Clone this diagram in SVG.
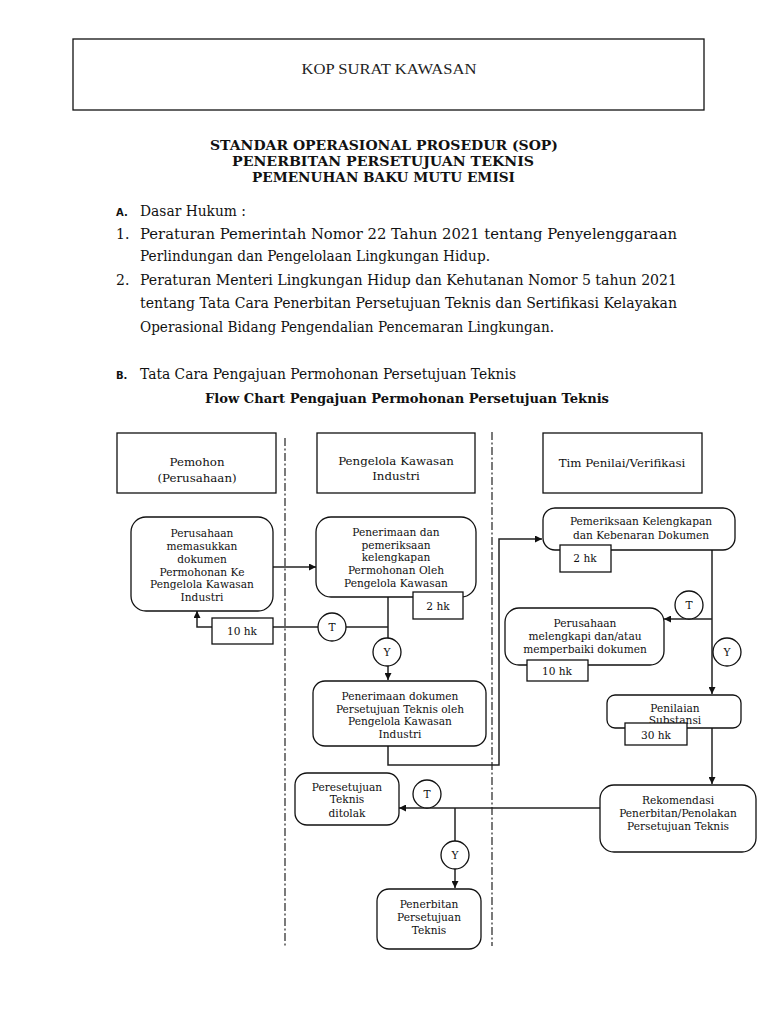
<svg xmlns="http://www.w3.org/2000/svg" width="768" height="1024" viewBox="0 0 768 1024">
<style>
.bg{fill:#fff}
.box{fill:#fff;stroke:#111;stroke-width:1.3}
.rbox{fill:#fff;stroke:#111;stroke-width:1.3}
.circ{fill:#fff;stroke:#111;stroke-width:1.3}
.conn{fill:none;stroke:#222;stroke-width:1.5}
.lane{fill:none;stroke:#222;stroke-width:1.2;stroke-dasharray:8 2.5 2 2.5}
.body{font-family:"DejaVu Serif","Liberation Serif",serif;font-size:14px;fill:#111}
.title{font-family:"DejaVu Serif","Liberation Serif",serif;font-size:13px;font-weight:bold;fill:#111}
.lbl{font-family:"DejaVu Sans","Liberation Sans",sans-serif;font-size:10px;font-weight:bold;fill:#111}
.t{font-family:"DejaVu Serif","Liberation Serif",serif;font-size:10.6px;fill:#111;text-anchor:middle}
.th{font-family:"DejaVu Serif","Liberation Serif",serif;font-size:11.8px;fill:#111;text-anchor:middle}
.kop{font-family:"Liberation Serif","DejaVu Serif",serif;font-size:15px;fill:#222;text-anchor:middle}
</style>
<defs>
<marker id="arr" viewBox="0 0 10 10" refX="10" refY="5" markerWidth="8" markerHeight="7" markerUnits="userSpaceOnUse" orient="auto">
<path d="M0,0 L10,5 L0,10 z" fill="#111"/>
</marker>
</defs>
<rect class="bg" x="0" y="0" width="768" height="1024"/>

<g id="kop">
<rect class="box" x="73" y="39" width="631" height="71"/>
<text class="kop" x="389" y="74" textLength="175" lengthAdjust="spacingAndGlyphs">KOP SURAT KAWASAN</text>
</g>

<g id="titles">
<text class="title" x="210" y="150" textLength="348" lengthAdjust="spacingAndGlyphs">STANDAR OPERASIONAL PROSEDUR (SOP)</text>
<text class="title" x="232" y="166" textLength="302" lengthAdjust="spacingAndGlyphs">PENERBITAN PERSETUJUAN TEKNIS</text>
<text class="title" x="252" y="182" textLength="263" lengthAdjust="spacingAndGlyphs">PEMENUHAN BAKU MUTU EMISI</text>
</g>

<g id="body">
<text class="lbl" x="116" y="216">A.</text>
<text class="body" x="140" y="216" textLength="106" lengthAdjust="spacingAndGlyphs">Dasar Hukum :</text>
<text class="body" x="116" y="239">1.</text>
<text class="body" x="140" y="239" textLength="537" lengthAdjust="spacingAndGlyphs">Peraturan  Pemerintah  Nomor  22  Tahun  2021  tentang  Penyelenggaraan</text>
<text class="body" x="140" y="261" textLength="350" lengthAdjust="spacingAndGlyphs">Perlindungan dan Pengelolaan Lingkungan Hidup.</text>
<text class="body" x="116" y="285">2.</text>
<text class="body" x="140" y="285" textLength="537" lengthAdjust="spacingAndGlyphs">Peraturan Menteri Lingkungan Hidup dan Kehutanan Nomor 5 tahun 2021</text>
<text class="body" x="140" y="308" textLength="537" lengthAdjust="spacingAndGlyphs">tentang Tata Cara Penerbitan Persetujuan Teknis dan Sertifikasi Kelayakan</text>
<text class="body" x="140" y="332" textLength="414" lengthAdjust="spacingAndGlyphs">Operasional Bidang Pengendalian Pencemaran Lingkungan.</text>
<text class="lbl" x="116" y="379">B.</text>
<text class="body" x="140" y="379" textLength="376" lengthAdjust="spacingAndGlyphs">Tata Cara Pengajuan Permohonan Persetujuan Teknis</text>
<text class="title" x="205" y="403" textLength="404" lengthAdjust="spacingAndGlyphs">Flow Chart Pengajuan Permohonan Persetujuan Teknis</text>
</g>

<g id="lanes">
<line class="lane" x1="285" y1="438" x2="285" y2="946"/>
<line class="lane" x1="492" y1="432" x2="492" y2="946"/>
</g>

<g id="connectors">
<path class="conn" d="M273 567 H316" marker-end="url(#arr)"/>
<path class="conn" d="M388 597 V680" marker-end="url(#arr)"/>
<path class="conn" d="M388 627 H197 V611" marker-end="url(#arr)"/>
<path class="conn" d="M388 746 V765 H499 V539 H542" marker-end="url(#arr)"/>
<path class="conn" d="M712 550 V694" marker-end="url(#arr)"/>
<path class="conn" d="M712 619 H664" marker-end="url(#arr)"/>
<path class="conn" d="M712 728 V784" marker-end="url(#arr)"/>
<path class="conn" d="M600 808 H399" marker-end="url(#arr)"/>
<path class="conn" d="M455 808 V888" marker-end="url(#arr)"/>
</g>

<g id="lane-pemohon">
<rect class="box" x="117" y="433" width="159" height="60"/>
<text class="th" x="197" y="466">Pemohon</text>
<text class="th" x="197" y="482">(Perusahaan)</text>
</g>
<g id="lane-pengelola">
<rect class="box" x="317" y="433" width="158" height="60"/>
<text class="th" x="396" y="465">Pengelola Kawasan</text>
<text class="th" x="396" y="480">Industri</text>
</g>
<g id="lane-tim">
<rect class="box" x="543" y="433" width="159" height="60"/>
<text class="th" x="622" y="467">Tim Penilai/Verifikasi</text>
</g>

<g id="n1">
<rect class="rbox" x="131" y="517" width="142" height="94" rx="15"/>
<text class="t" x="202" y="537">Perusahaan</text>
<text class="t" x="202" y="550">memasukkan</text>
<text class="t" x="202" y="563">dokumen</text>
<text class="t" x="202" y="576">Permohonan Ke</text>
<text class="t" x="202" y="588">Pengelola Kawasan</text>
<text class="t" x="202" y="601">Industri</text>
</g>
<g id="hk10a">
<rect class="box" x="212" y="618" width="61" height="26"/>
<text class="t" x="242" y="635">10 hk</text>
</g>
<g id="t1">
<circle class="circ" cx="332" cy="627" r="14"/>
<text class="t" x="332" y="631">T</text>
</g>

<g id="n2">
<rect class="rbox" x="316" y="517" width="160" height="80" rx="15"/>
<text class="t" x="396" y="536">Penerimaan dan</text>
<text class="t" x="396" y="549">pemeriksaan</text>
<text class="t" x="396" y="561">kelengkapan</text>
<text class="t" x="396" y="574">Permohonan Oleh</text>
<text class="t" x="396" y="587">Pengelola Kawasan</text>
</g>
<g id="hk2a">
<rect class="box" x="413" y="592" width="50" height="27"/>
<text class="t" x="438" y="610">2 hk</text>
</g>
<g id="y1">
<circle class="circ" cx="387" cy="652" r="14"/>
<text class="t" x="387" y="656">Y</text>
</g>

<g id="n3">
<rect class="rbox" x="313" y="681" width="173" height="65" rx="12"/>
<text class="t" x="400" y="700">Penerimaan dokumen</text>
<text class="t" x="400" y="713">Persetujuan Teknis oleh</text>
<text class="t" x="400" y="725">Pengelola Kawasan</text>
<text class="t" x="400" y="738">Industri</text>
</g>

<g id="n4">
<rect class="rbox" x="543" y="508" width="192" height="42" rx="12"/>
<text class="t" x="641" y="525">Pemeriksaan Kelengkapan</text>
<text class="t" x="641" y="539">dan Kebenaran Dokumen</text>
</g>
<g id="hk2b">
<rect class="box" x="560" y="545" width="51" height="27"/>
<text class="t" x="585" y="562">2 hk</text>
</g>
<g id="t2">
<circle class="circ" cx="689" cy="605" r="14"/>
<text class="t" x="689" y="609">T</text>
</g>

<g id="n5">
<rect class="rbox" x="505" y="608" width="159" height="57" rx="14"/>
<text class="t" x="585" y="627">Perusahaan</text>
<text class="t" x="585" y="640">melengkapi dan/atau</text>
<text class="t" x="585" y="653">memperbaiki dokumen</text>
</g>
<g id="hk10b">
<rect class="box" x="527" y="660" width="61" height="21"/>
<text class="t" x="557" y="675">10 hk</text>
</g>
<g id="y2">
<circle class="circ" cx="727" cy="652" r="14"/>
<text class="t" x="727" y="656">Y</text>
</g>

<g id="n6">
<rect class="rbox" x="607" y="695" width="134" height="33" rx="8"/>
<text class="t" x="675" y="712">Penilaian</text>
<text class="t" x="675" y="724">Substansi</text>
</g>
<g id="hk30">
<rect class="box" x="625" y="723" width="62" height="22"/>
<text class="t" x="656" y="739">30 hk</text>
</g>

<g id="n7">
<rect class="rbox" x="600" y="785" width="156" height="67" rx="14"/>
<text class="t" x="678" y="804">Rekomendasi</text>
<text class="t" x="678" y="817">Penerbitan/Penolakan</text>
<text class="t" x="678" y="830">Persetujuan Teknis</text>
</g>

<g id="t3">
<circle class="circ" cx="427" cy="794" r="14"/>
<text class="t" x="427" y="798">T</text>
</g>
<g id="n8">
<rect class="rbox" x="295" y="773" width="104" height="52" rx="12"/>
<text class="t" x="347" y="791">Peresetujuan</text>
<text class="t" x="347" y="803">Teknis</text>
<text class="t" x="347" y="817">ditolak</text>
</g>
<g id="y3">
<circle class="circ" cx="455" cy="855" r="14"/>
<text class="t" x="455" y="859">Y</text>
</g>
<g id="n9">
<rect class="rbox" x="377" y="889" width="104" height="60" rx="12"/>
<text class="t" x="429" y="908">Penerbitan</text>
<text class="t" x="429" y="921">Persetujuan</text>
<text class="t" x="429" y="934">Teknis</text>
</g>
</svg>
